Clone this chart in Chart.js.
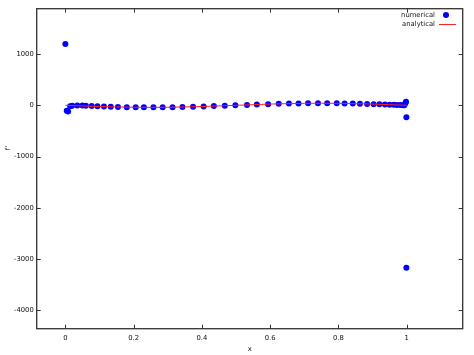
<!DOCTYPE html>
<html>
<head>
<meta charset="utf-8">
<script src="https://cdn.jsdelivr.net/npm/chart.js"></script>
<style>
  html, body { margin: 0; padding: 0; background: #fff; }
  #wrap { width: 474px; height: 355px; }
</style>
</head>
<body>
<div id="wrap"><canvas id="plot" width="474" height="355"></canvas></div>
<script>
// numerical points (x, f')
const numX = [0, 0.004, 0.008, 0.014, 0.02, 0.035, 0.05, 0.06, 0.077, 0.094, 0.113, 0.133, 0.154, 0.18,
  0.206, 0.23, 0.258, 0.285, 0.314, 0.343, 0.374, 0.405, 0.435, 0.467, 0.498, 0.532, 0.561, 0.594,
  0.625, 0.655, 0.683, 0.711, 0.74, 0.767, 0.795, 0.818, 0.842, 0.863, 0.884, 0.903, 0.92, 0.936,
  0.95, 0.962, 0.971, 0.981, 0.989, 0.993, 0.996, 0.998, 0.999, 0.999];
const numY = [1195, -105, -120, -20, -8, -5, -6, -10, -15, -20, -25, -29, -33, -36,
  -38, -40, -40, -39, -37, -33, -28, -22, -16, -8, 0, 8, 15, 22,
  28, 33, 36, 39, 40, 40, 38, 36, 33, 30, 26, 22, 19, 16,
  12, 9, 7, 5, 3, 2, 40, 70, -235, -3170];

// analytical curve
const anaX = [0, 0.05, 0.1, 0.15, 0.2, 0.25, 0.3, 0.35, 0.4, 0.45, 0.5, 0.55, 0.6, 0.65, 0.7, 0.75, 0.8, 0.85, 0.9, 0.95, 1];
const anaY = [0, -12, -24, -32, -38, -40, -38, -32, -24, -12, 0, 12, 24, 32, 38, 40, 38, 32, 24, 12, 0];

const xTicks = [0, 0.2, 0.4, 0.6, 0.8, 1];
const yTicks = [1000, 0, -1000, -2000, -3000, -4000];

const FONT = '"DejaVu Sans", sans-serif';
const FSIZE = 6.8;

const frame = {
  id: 'frame',
  afterDraw(chart) {
    const { ctx, chartArea: a, scales } = chart;
    ctx.save();
    ctx.strokeStyle = '#333';
    ctx.lineWidth = 1.3;
    ctx.strokeRect(a.left, a.top, a.right - a.left, a.bottom - a.top);
    ctx.lineWidth = 1;
    const t = 4;
    ctx.beginPath();
    xTicks.forEach(v => {
      const px = Math.round(scales.x.getPixelForValue(v)) + 0.5;
      ctx.moveTo(px, a.bottom); ctx.lineTo(px, a.bottom - t);
      ctx.moveTo(px, a.top); ctx.lineTo(px, a.top + t);
    });
    yTicks.forEach(v => {
      const py = Math.round(scales.y.getPixelForValue(v)) + 0.5;
      ctx.moveTo(a.left, py); ctx.lineTo(a.left + t, py);
      ctx.moveTo(a.right, py); ctx.lineTo(a.right - t, py);
    });
    ctx.stroke();

    // axis titles
    ctx.fillStyle = '#111';
    ctx.font = FSIZE + 'px ' + FONT;
    ctx.textAlign = 'center';
    ctx.textBaseline = 'middle';
    ctx.fillText('x', (a.left + a.right) / 2, 349);
    ctx.save();
    ctx.translate(8, 148);
    ctx.rotate(-Math.PI / 2);
    ctx.fillText("f'", 0, 0);
    ctx.restore();

    // key
    ctx.textAlign = 'right';
    ctx.fillText('numerical', 435, 15);
    ctx.fillText('analytical', 435, 24);
    ctx.fillStyle = '#0000ff';
    ctx.beginPath();
    ctx.arc(446, 15, 3, 0, Math.PI * 2);
    ctx.fill();
    ctx.strokeStyle = '#ff2020';
    ctx.beginPath();
    ctx.moveTo(439, 24.5); ctx.lineTo(456, 24.5);
    ctx.stroke();
    ctx.restore();
  }
};

new Chart(document.getElementById('plot'), {
  type: 'scatter',
  data: {
    datasets: [
      {
        label: 'analytical',
        data: anaX.map((x, i) => ({ x, y: anaY[i] })),
        showLine: true,
        borderColor: '#ff2020',
        borderWidth: 1,
        pointRadius: 0,
        order: 0
      },
      {
        label: 'numerical',
        data: numX.map((x, i) => ({ x, y: numY[i] })),
        backgroundColor: '#0000ff',
        borderColor: '#0000ff',
        pointRadius: 3,
        borderWidth: 0,
        order: 1
      }
    ]
  },
  options: {
    responsive: false,
    animation: false,
    layout: { padding: { left: 0, right: 11.3, top: 8.7, bottom: 0 } },
    plugins: { legend: { display: false }, tooltip: { enabled: false } },
    scales: {
      x: {
        type: 'linear',
        min: -0.084,
        max: 1.164,
        grid: { display: false, drawTicks: false },
        border: { display: false },
        afterBuildTicks: s => { s.ticks = xTicks.map(v => ({ value: v })); },
        afterFit: s => { s.height = 26.3; },
        ticks: { color: '#111', font: { family: FONT, size: FSIZE }, padding: 5, maxRotation: 0,
          callback: v => String(v) }
      },
      y: {
        type: 'linear',
        min: -4357,
        max: 1884,
        grid: { display: false, drawTicks: false },
        border: { display: false },
        afterBuildTicks: s => { s.ticks = yTicks.map(v => ({ value: v })); },
        afterFit: s => { s.width = 36.7; },
        ticks: { color: '#111', font: { family: FONT, size: FSIZE }, padding: 3,
          callback: v => String(v) }
      }
    }
  },
  plugins: [frame]
});
</script>
</body>
</html>
